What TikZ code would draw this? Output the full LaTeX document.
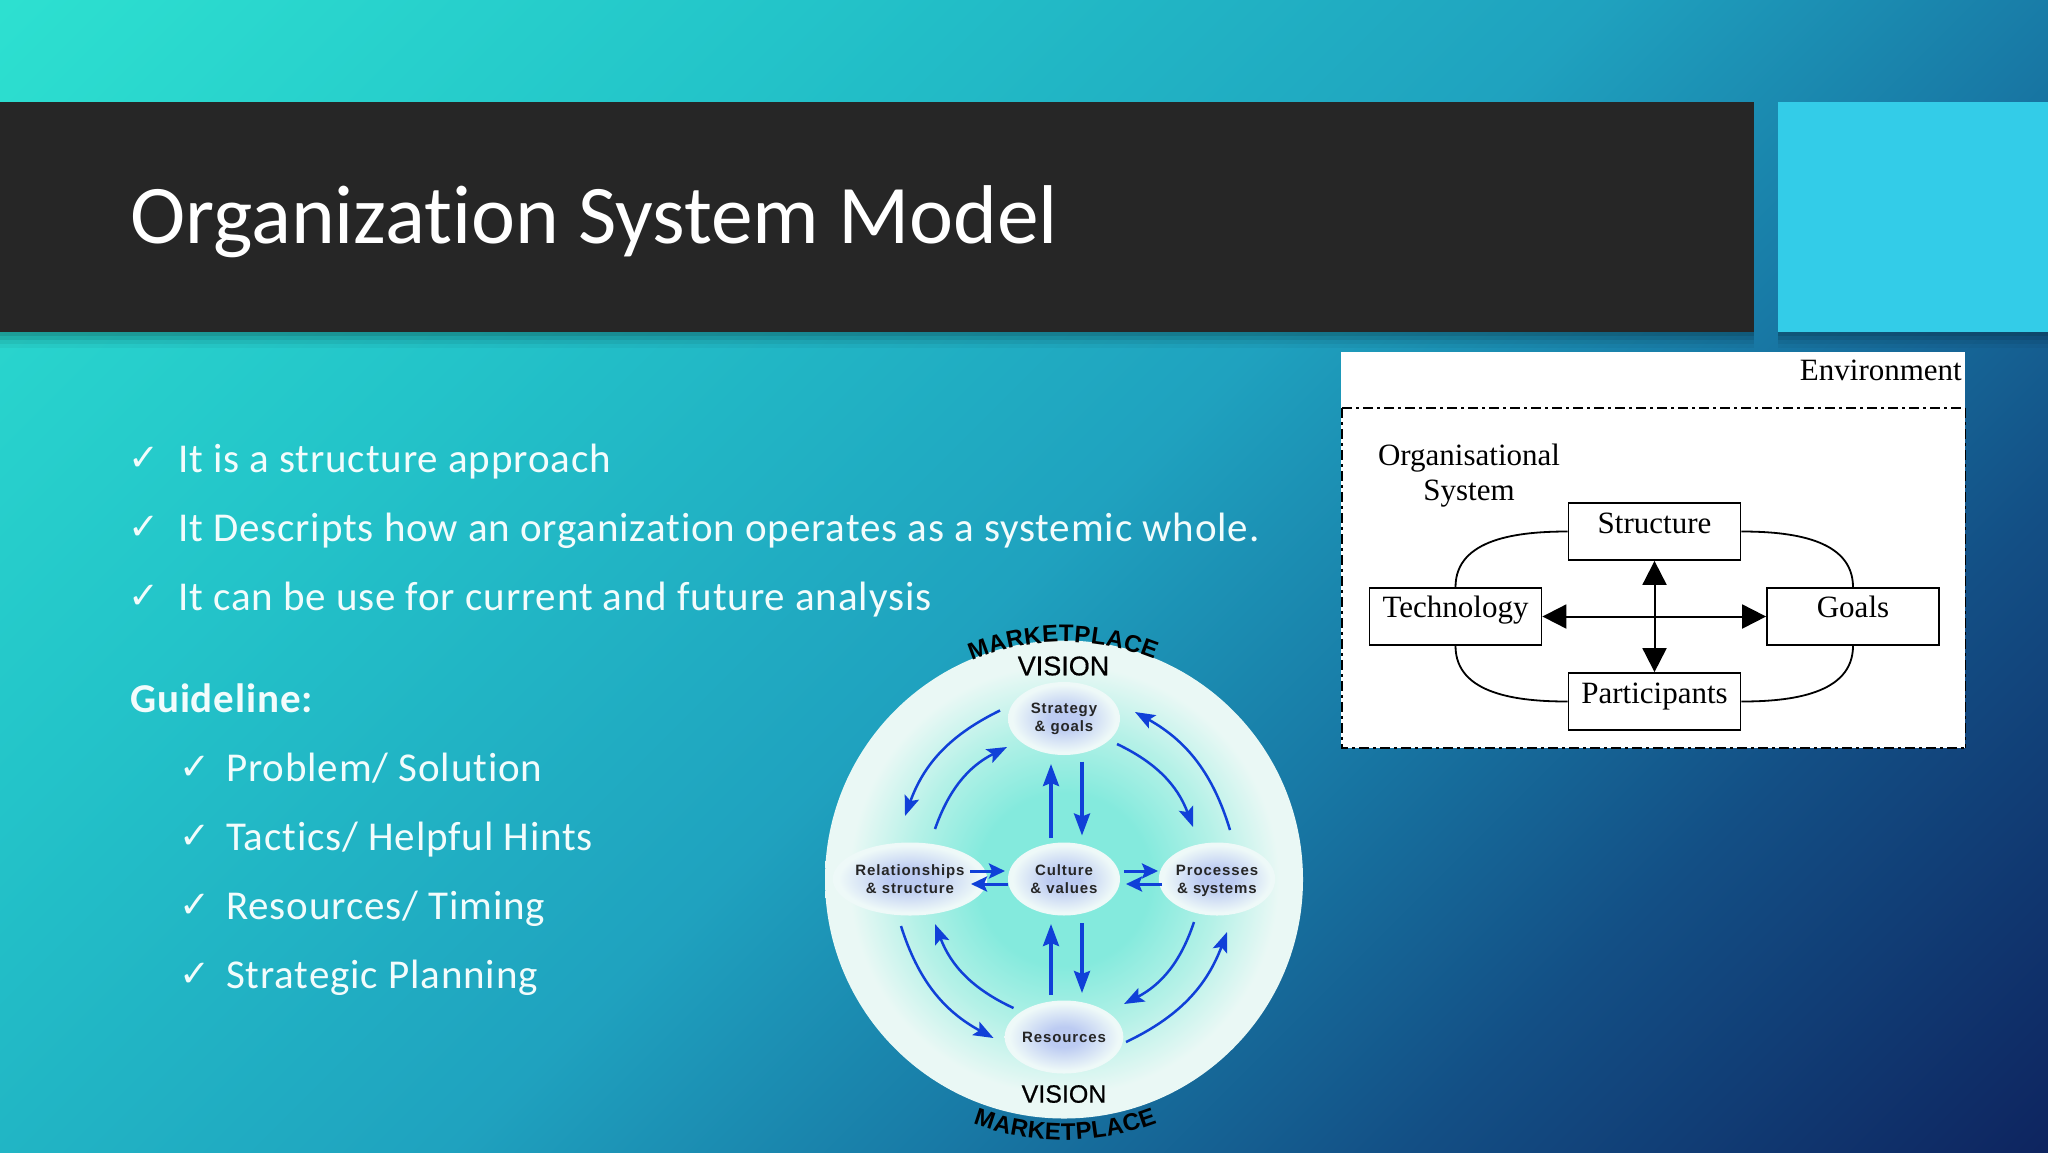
\documentclass[tikz,border=0pt]{standalone}
\usepackage{fontspec}
\usetikzlibrary{arrows.meta,shapes.geometric,decorations.text,calc}
\setmainfont[LetterSpace=2.1,Ligatures=NoCommon]{Carlito}
\newfontfamily\titlefont[Ligatures=NoCommon]{Carlito}
\newfontfamily\boxfont{Liberation Serif}
\newfontfamily\ovalfont[LetterSpace=6]{Liberation Sans}
\newfontfamily\visionfont[FakeBold=0.6]{Liberation Sans}
\newfontfamily\marketfont{Liberation Sans}
\newfontfamily\checkfont{DejaVu Sans}
\definecolor{bga}{HTML}{2DE0D0}
\definecolor{bgb}{HTML}{23C4C9}
\definecolor{bgc}{HTML}{1FA2BF}
\definecolor{bgd}{HTML}{187AA6}
\definecolor{bge}{HTML}{134F85}
\definecolor{bgf}{HTML}{0E2560}
\definecolor{bardark}{HTML}{262626}
\definecolor{accentblue}{HTML}{33CCE8}
\definecolor{txtwhite}{HTML}{F2FCFC}
\definecolor{arrowblue}{HTML}{1040D8}
\definecolor{ovalc}{HTML}{BCCBF2}
\definecolor{ovale}{HTML}{EEF9F8}
\definecolor{disca}{HTML}{84EADD}
\definecolor{discb}{HTML}{B4F1E7}
\definecolor{discc}{HTML}{EAF8F5}
\pgfdeclarehorizontalshading{bgshade}{100bp}{color(0bp)=(bga);color(25bp)=(bga);color(37.5bp)=(bgb);color(50bp)=(bgc);color(57.5bp)=(bgd);color(65bp)=(bge);color(75bp)=(bgf);color(100bp)=(bgf)}
\pgfdeclareradialshading{ovalshade}{\pgfpoint{0bp}{0bp}}{color(0bp)=(ovalc);color(7bp)=(ovalc);color(23bp)=(ovale);color(50bp)=(ovale)}
\pgfdeclareradialshading{discshade}{\pgfpoint{0bp}{0bp}}{color(0bp)=(disca);color(9bp)=(disca);color(16bp)=(discb);color(22.5bp)=(discc);color(25bp)=(discc);color(50bp)=(discc)}
\tikzset{
  x=1pt,y=-1pt,
  slidetext/.style={anchor=base west,inner sep=0pt,text=txtwhite,font=\fontsize{41}{48}\selectfont},
  checkmark/.style={anchor=base west,inner sep=0pt,text=txtwhite,font=\checkfont\fontsize{37}{40}\selectfont},
  oval/.style={ellipse,minimum width=112pt,minimum height=73pt,inner sep=0pt,shading=ovalshade,align=center,text=black!85,font=\ovalfont\bfseries\fontsize{15}{18}\selectfont},
  flowarc/.style={draw=arrowblue,line width=2.5pt,-{Stealth[length=20pt,width=15pt,inset=4pt]}},
  flowline/.style={draw=arrowblue,line width=3.4pt,-{Stealth[length=22pt,width=16pt,inset=3pt]}},
  flowshort/.style={draw=arrowblue,line width=3pt,-{Stealth[length=16pt,width=15pt,inset=3pt]}},
  orgbox/.style={draw=black,line width=1.8pt,fill=white,minimum width=172pt,inner sep=0pt,font=\boxfont\fontsize{31}{36}\selectfont,text=black},
  orglink/.style={draw=black,line width=1.8pt},
  orgarrow/.style={draw=black,line width=2pt,{Triangle[length=24pt,width=24pt]}-{Triangle[length=24pt,width=24pt]}},
  envline/.style={draw=black,dash pattern=on 10pt off 4pt on 3pt off 4pt},
  wordarc/.style={decorate,decoration={text along path,text align=fit to path,text={|\marketfont\bfseries\fontsize{24}{24}\selectfont|MARKETPLACE}}},
  visionword/.style={inner sep=0pt,text=black,font=\visionfont\fontsize{27}{27}\selectfont}
}
\begin{document}
\begin{tikzpicture}
\useasboundingbox (0,0) rectangle (2048,1152);
\begin{scope}
\clip (0,0) rectangle (2048,1152);
\shade[shading=bgshade,shading angle=-45] (-107,-555) rectangle (2155,1707);
\end{scope}
% header shadows
\foreach \d/\o in {4/0.10,8/0.08,12/0.06,16/0.04}{
  \fill[black,opacity=\o] (0,332) rectangle (1754,332+\d);
  \fill[black,opacity=\o] (1778,332) rectangle (2048,332+\d);
}
\fill[bardark] (0,102) rectangle (1754,332);
\fill[accentblue] (1778,102) rectangle (2048,332);
\node[anchor=base west,inner sep=0pt,text=white,font=\titlefont\fontsize{83.4}{96}\selectfont] (title) at (130,243) {Organization System Model};
% bullets
\node[checkmark] (c1) at (128,470) {✓};
\node[slidetext] (t1) at (178,472) {It is a structure approach};
\node[checkmark] (c2) at (128,539) {✓};
\node[slidetext] (t2) at (178,541) {It Descripts how an organization operates as a systemic whole.};
\node[checkmark] (c3) at (128,608) {✓};
\node[slidetext] (t3) at (178,610) {It can be use for current and future analysis};
\node[slidetext,font=\bfseries\fontsize{41}{48}\selectfont] (guide) at (130,712) {Guideline:};
\node[checkmark] (c4) at (179,779) {✓};
\node[slidetext] (t4) at (226,781) {Problem/ Solution};
\node[checkmark] (c5) at (179,848) {✓};
\node[slidetext] (t5) at (226,850) {Tactics/ Helpful Hints};
\node[checkmark] (c6) at (179,917) {✓};
\node[slidetext] (t6) at (226,919) {Resources/ Timing};
\node[checkmark] (c7) at (179,986) {✓};
\node[slidetext] (t7) at (226,988) {Strategic Planning};
% organisational system diagram
\fill[white] (1341,352) rectangle (1965,748);
\draw[envline,line width=2pt] (1342,408) -- (1965,408);
\draw[envline,line width=1.4pt] (1342,408) -- (1342,748) -- (1965,748);
\draw[envline,line width=0.8pt] (1965,408) -- (1965,748);
\node[anchor=base east,inner sep=0pt,font=\boxfont\fontsize{31}{36}\selectfont] (env) at (1962,380) {Environment};
\node[anchor=base,inner sep=0pt,align=center,font=\boxfont\fontsize{31}{35}\selectfont] (orgsys) at (1469,500) {Organisational\\System};
\node[orgbox,text height=30pt,text depth=27pt] (struct) at (1654.5,531.5) {Structure};
\node[orgbox,text height=29pt,text depth=28pt] (tech) at (1455.5,616.5) {Technology};
\node[orgbox,text height=29pt,text depth=28pt] (goals) at (1853,616.5) {Goals};
\node[orgbox,text height=30pt,text depth=27pt] (part) at (1654.5,701.5) {Participants};
\draw[orglink] (struct.west) to[out=180,in=90] (tech.north);
\draw[orglink] (struct.east) to[out=0,in=90] (goals.north);
\draw[orglink] (part.west) to[out=180,in=-90] (tech.south);
\draw[orglink] (part.east) to[out=0,in=-90] (goals.south);
\draw[orgarrow] (tech.east) -- (goals.west);
\draw[orgarrow] (struct.south) -- (part.north);
% marketplace disc
\node[circle,minimum size=478pt,inner sep=0pt,shading=discshade] (disc) at (1064,879.5) {};
\node[visionword] (v1) at (1063.5,666) {VISION};
\node[visionword,font=\visionfont\fontsize{25}{25}\selectfont] (v2) at (1064,1094) {VISION};
\path[wordarc] ([shift={(-112.5:241)}]1064,883) arc[start angle=-112.5,end angle=-68,radius=241];
\path[wordarc] ([shift={(110.5:260)}]1064,880) arc[start angle=110.5,end angle=69,radius=260];
\node[oval] (strat) at (1064,718.5) {Strategy\\\& goals};
\node[oval] (rel) at (910,879) {Relationships\\\& structure};
\node[oval] (cult) at (1064,879) {Culture\\\& values};
\node[oval] (proc) at (1217,879) {Processes\\\& s\smash{y}stems};
\node[oval] (res) at (1064,1037) {Resources};
% vertical flows
\draw[flowline] ([shift={(-13,-41)}]cult.center) -- ([shift={(-13,45.5)}]strat.center);
\draw[flowline] ([shift={(18,43)}]strat.center) -- ([shift={(18,-43.5)}]cult.center);
\draw[flowline] ([shift={(-13,-42)}]res.center) -- ([shift={(-13,45)}]cult.center);
\draw[flowline] ([shift={(18,44)}]cult.center) -- ([shift={(18,-44)}]res.center);
% horizontal flows
\draw[flowshort] ([shift={(60,-8)}]rel.center) -- ([shift={(-59,-8)}]cult.center);
\draw[flowshort] ([shift={(-56,5)}]cult.center) -- ([shift={(61,5)}]rel.center);
\draw[flowshort] ([shift={(60,-8)}]cult.center) -- ([shift={(-59,-8)}]proc.center);
\draw[flowshort] ([shift={(-55,5)}]proc.center) -- ([shift={(62,5)}]cult.center);
% circular flows
\draw[flowarc] ([shift={(-64,-8)}]strat.center) to[bend right=22] ([shift={(-5,-63)}]rel.center);
\draw[flowarc] ([shift={(25,-50)}]rel.center) to[bend left=22] ([shift={(-57,28.5)}]strat.center);
\draw[flowarc] ([shift={(53,25.5)}]strat.center) to[bend left=22] ([shift={(-24,-52)}]proc.center);
\draw[flowarc] ([shift={(13,-49)}]proc.center) to[bend right=22] ([shift={(71,-6.5)}]strat.center);
\draw[flowarc] ([shift={(-23,43)}]proc.center) to[bend left=22] ([shift={(60,-33)}]res.center);
\draw[flowarc] ([shift={(62,5)}]res.center) to[bend right=22] ([shift={(10,53)}]proc.center);
\draw[flowarc] ([shift={(-50.5,-29)}]res.center) to[bend left=22] ([shift={(25,45)}]rel.center);
\draw[flowarc] ([shift={(-9,47)}]rel.center) to[bend right=22] ([shift={(-70.5,1)}]res.center);
\end{tikzpicture}
\end{document}
